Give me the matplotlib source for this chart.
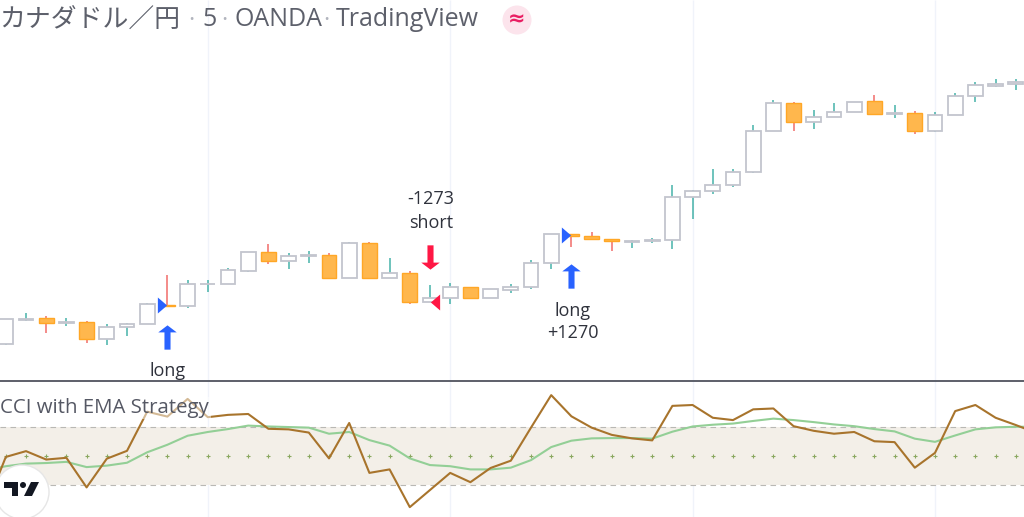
#!/usr/bin/env python3
import numpy as np
import matplotlib
matplotlib.use('Agg')
import matplotlib.pyplot as plt
from matplotlib.patches import Circle, Polygon

plt.rcParams['font.family'] = ['Open Sans', 'Noto Sans CJK JP', 'DejaVu Sans']

W, H = 1024, 517

# candles, price in arbitrary chart units (the picture shows no price scale)
opens = [56, 80, 82, 77, 78, 61, 73, 76, 95, 94, 115.7, 116, 129, 148, 139, 144, 145,
         122, 157, 122, 127, 98, 102, 113, 102, 110, 113, 137, 166, 164, 161, 158.5, 159,
         160, 203, 209, 215, 228, 269, 297, 278, 283, 288, 299, 286, 287, 269, 285, 304, 314, 316]
highs = [81, 87, 84, 82, 79, 76, 77, 97, 125, 120, 120, 132, 148, 156, 147, 149, 147,
         158, 158, 142, 129, 115, 117, 113, 111, 116, 140, 166, 166, 168, 161, 160, 162,
         215, 210, 231, 231, 275, 300, 298, 290, 297, 298, 305, 295, 289, 288, 307, 318, 321, 321]
lows = [55, 79, 67, 74, 57, 55, 64, 76, 94, 92, 108, 116, 128, 136, 131, 137, 122,
        122, 121, 122, 96, 98, 96, 102, 102, 107, 111, 131, 153, 160, 149, 152, 157,
        151, 181, 206, 213, 227, 269, 269, 271, 283, 288, 285, 282, 266, 268, 285, 298, 313, 310]
closes = [81, 81.5, 77, 78, 61, 73, 76, 96, 94, 116, 116, 130, 148, 139, 144, 145, 122,
          157, 122, 127, 98, 102, 113, 102, 111, 113, 137, 166, 164, 161, 159, 159, 160,
          203, 209, 215, 228, 269, 297, 278, 283, 288, 298, 286, 287, 269, 285, 304, 315, 316, 318]

# first and last value of these two sit just outside the visible range
cci = [-178, -3, 17, -12, -6, -108, -9, 18, 153, 136, 197, 134, 142, 145, 94, 92, 81, -8, 114,
       -58, -46, -176, -117, -58, -90, -41, -16, 98, 210, 137, 98, 73, 61, 54, 173, 176, 132,
       124, 161, 164, 103, 87, 77, 83, 51, 48, -40, 11, 155, 176, 132, 107, 80]
ema = [-49, -35, -26, -24, -20, -38, -33, -23, 13, 39, 70, 83, 93, 105, 102, 100, 98, 77, 83,
       55, 36, -8, -31, -35, -46, -46, -40, -14, 31, 53, 61, 62, 62, 60, 84, 102, 108,
       112, 121, 129, 124, 117, 109, 103, 93, 85, 60, 49, 71, 92, 99, 101, 101]

grid_bars = [10, 22, 34, 46]

long_bars = [8, 28]
long_arrow_levels = [63, 124]
long_tri_levels = [95, 165]
short_bars = [21]
short_arrow_levels = [143]
short_tri_levels = [98]

UP_ARROW = [(-0.76, 0.42), (-0.25, 0.42), (-0.25, -1), (0.25, -1), (0.25, 0.42), (0.76, 0.42), (0, 1)]
DOWN_ARROW = [(x, -y) for x, y in UP_ARROW]
TRI_RIGHT = [(-0.58, 1), (0.58, 0), (-0.58, -1)]
TRI_LEFT = [(0.58, 1), (-0.58, 0), (0.58, -1)]

BLUE = '#2962ff'
RED = '#ff1744'
TEXT = '#2f323c'


def px_axes(fig, top, bottom):
    return fig.add_axes([0, 1 - bottom / H, 1, (bottom - top) / H])


def bar_xlim():
    return (-5.8 / 20.2, (W - 5.8) / 20.2)


def draw_candles(ax):
    xs = np.arange(len(opens))
    o, h, l, c = map(np.array, (opens, highs, lows, closes))
    up = c >= o
    ax.vlines(xs[up], l[up], h[up], color='#26a69a', lw=1.1, alpha=0.85, zorder=2)
    ax.vlines(xs[~up], l[~up], h[~up], color='#ef5350', lw=1.1, alpha=0.85, zorder=2)
    ax.bar(xs[up], (c - o)[up], bottom=o[up], width=0.74, facecolor='white',
           edgecolor='#c3c5ce', lw=1.3, zorder=3)
    ax.bar(xs[~up], (c - o)[~up], bottom=o[~up], width=0.74, facecolor='#ffb74d',
           edgecolor='#ffa726', lw=1.0, zorder=3)


def draw_signals(ax):
    for b, a, t in zip(long_bars, long_arrow_levels, long_tri_levels):
        ax.plot(b, a, marker=UP_ARROW, ms=17.5, color=BLUE, mew=0, zorder=5)
        ax.plot(b - 0.26, t, marker=TRI_RIGHT, ms=11.5, color=BLUE, mew=0, zorder=5)
    for b, a, t in zip(short_bars, short_arrow_levels, short_tri_levels):
        ax.plot(b, a, marker=DOWN_ARROW, ms=17.5, color=RED, mew=0, zorder=5)
        ax.plot(b + 0.27, t, marker=TRI_LEFT, ms=11.5, color=RED, mew=0, zorder=5)

    lab = dict(ha='center', va='center', fontsize=13, color=TEXT, zorder=6)
    ax.text(8, 29.5, 'long', **lab)
    ax.text(28.05, 88.5, 'long', **lab)
    ax.text(28.05, 66.5, '+1270', **lab)
    ax.text(21.05, 201.5, '-1273', **lab)
    ax.text(21.05, 177.5, 'short', **lab)


def draw_indicator(ax):
    xs = np.arange(-1, len(cci) - 1)
    ax.axhspan(-100, 100, color='#f3efe8', lw=0, zorder=1)
    for lvl in (100, -100):
        ax.axhline(lvl, color='#b9b8b4', lw=0.8, ls=(0, (5, 4)), zorder=2)
    ax.plot(xs[1:-1], np.zeros(len(xs) - 2), ls='none', marker='+', ms=2.5, mew=0.8,
            color='#8aa860', zorder=2)
    ax.plot(xs, ema, color='#93cf96', lw=1.5, zorder=3)
    ax.plot(xs, cci, color='#a8742c', lw=1.5, zorder=4)


def draw_overlay(ax):
    # header
    grey = '#5d606b'
    dot = '#b2b5be'
    kw = dict(va='center', fontsize=18, color=grey)
    ax.text(-1, 20, 'カナダドル／円', family=['Noto Sans CJK JP'], va='center',
            fontsize=18.6, color=grey)
    for x in (191, 224, 326):
        ax.text(x, 21, '·', va='center', ha='center', fontsize=17, color=dot)
    ax.text(202, 20, '5', **kw)
    ax.text(235, 20, 'OANDA', **kw)
    ax.text(336, 20, 'TradingView', **kw)
    ax.add_patch(Circle((517, 20), 14.5, fc='#fce4ec', ec='none'))
    ax.text(517, 19, '≈', ha='center', va='center', fontsize=15, fontweight='bold',
            color='#e91e63', family=['DejaVu Sans'])

    # pane divider and indicator title
    ax.plot([0, W], [380.5, 380.5], color='#50535e', lw=1.3)
    ax.text(0.5, 408, 'CCI with EMA Strategy', va='center', fontsize=14.7, color='#555864',
            bbox=dict(fc='white', ec='none', alpha=0.5, pad=1))

    # tradingview badge
    ax.add_patch(Circle((22, 492), 27, fc='white', ec='#e6e6e6', lw=1))
    ink = '#131722'
    ax.add_patch(Polygon([(4, 482), (18, 482), (18, 496), (12, 496), (12, 488), (4, 488)], fc=ink, lw=0))
    ax.add_patch(Circle((23, 485), 3, fc=ink, lw=0))
    ax.add_patch(Polygon([(31, 482), (39, 482), (32, 496), (24, 496)], fc=ink, lw=0))


def main():
    fig = plt.figure(figsize=(W / 100, H / 100), dpi=100, facecolor='white')

    price_ax = px_axes(fig, 0, 381)
    price_ax.set_xlim(*bar_xlim())
    price_ax.set_ylim(19, 400)
    cci_ax = px_axes(fig, 381, H)
    cci_ax.set_xlim(*bar_xlim())
    cci_ax.set_ylim(-210, 258.7)

    for ax in (price_ax, cci_ax):
        ax.axis('off')
        ax.vlines(grid_bars, *ax.get_ylim(), color='#f0f3fa', lw=1, zorder=0)

    draw_candles(price_ax)
    draw_signals(price_ax)
    draw_indicator(cci_ax)

    overlay = px_axes(fig, 0, H)
    overlay.set_xlim(0, W)
    overlay.set_ylim(H, 0)
    overlay.axis('off')
    overlay.patch.set_alpha(0)
    draw_overlay(overlay)

    fig.savefig('out.png', dpi=100)


if __name__ == "__main__":
    main()
